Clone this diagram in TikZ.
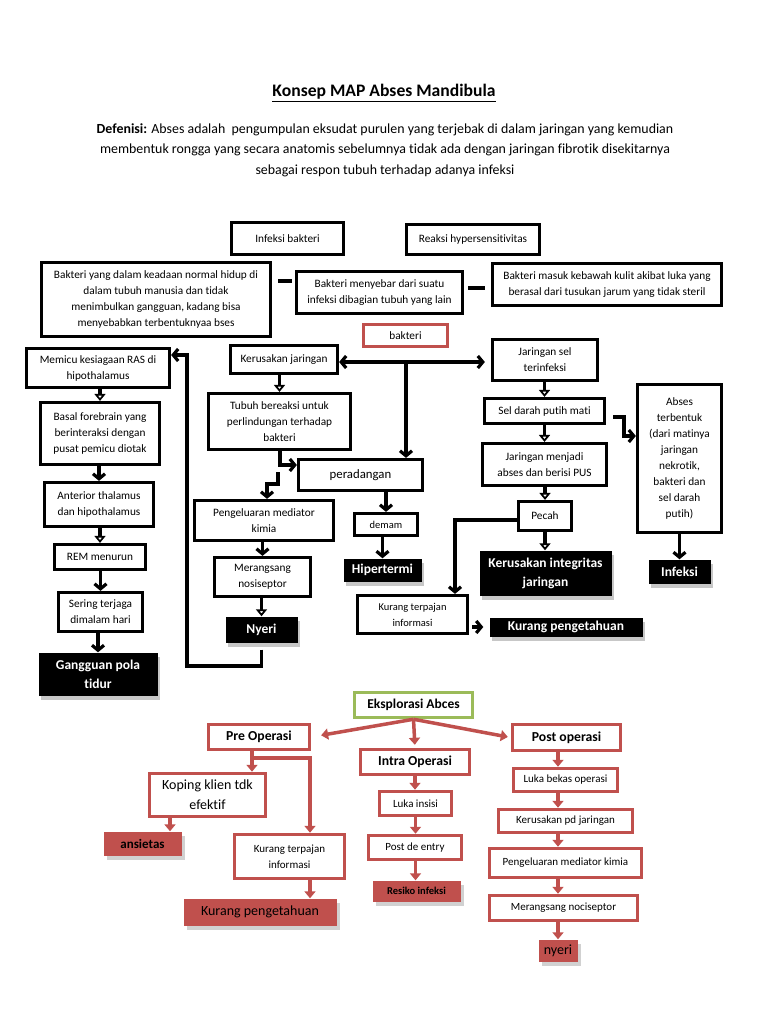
\documentclass[tikz,border=0pt]{standalone}
\usepackage{fontspec}
\setmainfont[Ligatures=NoCommon]{Carlito}
\usetikzlibrary{arrows.meta,shadows}
\definecolor{rd}{HTML}{C0504D}
\definecolor{gr}{HTML}{9BBB59}
\newcommand{\mybox}[7]{%
  \pgfmathsetmacro{\mbW}{#4-#2-3}%
  \pgfmathsetmacro{\mbH}{#5-#3-3}%
  \pgfmathsetmacro{\mbX}{(#2+#4)/2}%
  \pgfmathsetmacro{\mbY}{(#3+#5)/2}%
  \node[#1, minimum width=\mbW pt, minimum height=\mbH pt] (#6) at (\mbX,\mbY) {#7};}
\newcommand{\fs}[2]{\fontsize{#1}{#2}\selectfont}
\begin{document}
\begin{tikzpicture}[x=1pt,y=-1pt,
  bb/.style={draw=black, line width=3.2pt, fill=white, align=center, inner sep=1pt, font=\fs{11.3}{16}},
  blk/.style={fill=black, text=white, align=center, inner sep=1pt, font=\bfseries\fs{13.5}{19},
     general shadow={fill=black!22, shadow xshift=2pt, shadow yshift=-4pt}},
  rb/.style={draw=rd, line width=3.5pt, fill=white, align=center, inner sep=1pt, font=\fs{11}{16}},
  rf/.style={fill=rd, text=black, align=center, inner sep=1pt,
     general shadow={fill=black!18, shadow xshift=3pt, shadow yshift=-4pt}},
  conn/.style={line width=3.2pt, draw=black},
  tri/.style={-{Triangle[fill=white,length=7pt,width=11pt,line width=2.2pt]}},
  chev/.style={-{Straight Barb[length=5pt,width=12pt]}},
  rarr/.style={draw=rd, line width=3.5pt, -{Triangle[length=7pt,width=11pt]}}]
\fill[white] (0,0) rectangle (768,1024);
\useasboundingbox (0,0) rectangle (768,1024);

% title and definition
\node[font=\bfseries\fs{17.6}{20}] (title) at (384,93) {\underline{Konsep MAP Abses Mandibula}};
\node[align=center, font=\fs{13.9}{20.5}] (def) at (385,150) {\textbf{Defenisi:} Abses adalah \ pengumpulan eksudat purulen yang terjebak di dalam jaringan yang kemudian\\ membentuk rongga yang secara anatomis sebelumnya tidak ada dengan jaringan fibrotik disekitarnya\\ sebagai respon tubuh terhadap adanya infeksi};

% top boxes
\mybox{bb}{230}{221}{345}{256}{infb}{Infeksi bakteri}
\mybox{bb}{405}{223}{541}{256}{reak}{Reaksi hypersensitivitas}
\mybox{bb}{40}{261}{272}{338}{norm}{Bakteri yang dalam keadaan normal hidup di\\ dalam tubuh manusia dan tidak\\ menimbulkan gangguan, kadang bisa\\ menyebabkan terbentuknyaa bses}
\mybox{bb}{295}{270}{464}{315}{meny}{Bakteri menyebar dari suatu\\ infeksi dibagian tubuh yang lain}
\mybox{bb}{491}{262}{723}{307}{masuk}{Bakteri masuk kebawah kulit akibat luka yang\\ berasal dari tusukan jarum yang tidak steril}
\mybox{bb, draw=rd, line width=2.2pt}{362}{323}{449}{348}{bak}{bakteri}

% middle
\mybox{bb}{25}{347}{171}{389}{memicu}{Memicu kesiagaan RAS di\\ hipothalamus}
\mybox{bb}{39}{401}{161}{466}{basal}{Basal forebrain yang\\ berinteraksi dengan\\ pusat pemicu diotak}
\mybox{bb}{43}{481}{155}{528}{ant}{Anterior thalamus\\ dan hipothalamus}
\mybox{bb}{53}{543}{147}{571}{rem}{REM menurun}
\mybox{bb}{57}{591}{144}{633}{sering}{Sering terjaga\\ dimalam hari}
\mybox{blk}{37}{651}{159}{697}{gang}{Gangguan pola\\ tidur}

\mybox{bb}{229}{344}{339}{375}{kerus}{Kerusakan jaringan}
\mybox{bb}{207}{392}{352}{451}{tubuh}{Tubuh bereaksi untuk\\ perlindungan terhadap\\ bakteri}
\mybox{bb, font=\fs{12.8}{16}}{297}{458}{424}{492}{perad}{peradangan}
\mybox{bb}{193}{499}{335}{542}{peng}{Pengeluaran mediator\\ kimia}
\mybox{bb}{213}{556}{312}{598}{meran}{Merangsang\\ nosiseptor}
\mybox{blk}{224}{615}{299}{644}{nyeri}{Nyeri}
\mybox{bb, font=\fs{10.5}{16}}{353}{512}{419}{537}{demam}{demam}
\mybox{blk}{342}{557}{423}{583}{hiper}{Hipertermi}
\mybox{bb, font=\fs{10.5}{16}}{356}{594}{469}{635}{kurt}{Kurang terpajan\\ informasi}
\mybox{blk}{488}{616}{644}{638}{kurp}{Kurang pengetahuan}

\mybox{bb}{491}{338}{599}{382}{jarsel}{Jaringan sel\\ terinfeksi}
\mybox{bb}{483}{397}{606}{425}{sel}{Sel darah putih mati}
\mybox{bb}{481}{442}{608}{487}{jarm}{Jaringan menjadi\\ abses dan berisi PUS}
\mybox{bb}{517}{500}{573}{532}{pecah}{Pecah}
\mybox{blk}{478}{549}{613}{597}{kint}{Kerusakan integritas\\ jaringan}
\mybox{bb}{636}{383}{723}{534}{abses}{Abses\\ terbentuk\\ (dari matinya\\ jaringan\\ nekrotik,\\ bakteri dan\\ sel darah\\ putih)}
\mybox{blk}{647}{558}{712}{585}{inf}{Infeksi}

% bottom
\mybox{bb, draw=gr, line width=3.5pt, font=\bfseries\fs{13.5}{16}}{353}{691}{474}{719}{eks}{Eksplorasi Abces}
\mybox{rb, font=\bfseries\fs{13.7}{16}}{207}{723}{311}{751}{pre}{Pre Operasi}
\mybox{rb, font=\bfseries\fs{13.7}{16}}{359}{748}{471}{776}{intra}{Intra Operasi}
\mybox{rb, font=\bfseries\fs{13.7}{16}}{511}{723}{622}{752}{post}{Post operasi}
\mybox{rb, font=\fs{14}{20}}{148}{772}{267}{818}{kop}{Koping klien tdk\\ efektif}
\mybox{rf, font=\bfseries\fs{13}{16}}{102}{830}{183}{857}{ans}{ansietas}
\mybox{rb}{233}{833}{346}{880}{kurt2}{Kurang terpajan\\ informasi}
\mybox{rf, font=\fs{14}{16}}{182}{897}{338}{927}{kurp2}{Kurang pengetahuan}
\mybox{rb}{378}{790}{453}{817}{luka}{Luka insisi}
\mybox{rb}{367}{834}{463}{861}{pde}{Post de entry}
\mybox{rf, font=\bfseries\fs{10.5}{16}}{371}{879}{462}{903}{res}{Resiko infeksi}
\mybox{rb}{512}{767}{619}{793}{lbo}{Luka bekas operasi}
\mybox{rb}{497}{808}{634}{834}{kpd}{Kerusakan pd jaringan}
\mybox{rb}{488}{847}{643}{879}{pmk}{Pengeluaran mediator kimia}
\mybox{rb}{488}{894}{639}{922}{mno}{Merangsang nociseptor}
\mybox{rf, font=\fs{14}{16}}{537}{938}{579}{963}{ny2}{nyeri}

% coordinates for free ends
\coordinate (d1) at (278,281);
\coordinate (d2) at (292,281);
\coordinate (d3) at (468,288);
\coordinate (d4) at (485,288);
\coordinate (j) at (406,362);
\coordinate (t1) at (280,465);
\coordinate (t2) at (278,472);
\coordinate (t3) at (267,484);
\coordinate (l1) at (187,666);
\coordinate (l2) at (187,355);
\coordinate (p1) at (455,520);
\coordinate (s1) at (613,417);
\coordinate (s2) at (624,436);
\coordinate (k1) at (472,627);
\coordinate (r1) at (252,758);
\coordinate (r2) at (310,758);
\coordinate (r3) at (170,0);

% top dashes
\draw[conn] (d1) -- (d2);
\draw[conn] (d3) -- (d4);

% left column
\draw[conn,tri] (basal.north |- memicu.south) -- (basal.north);
\draw[conn,chev] (ant.north |- basal.south) -- (ant.north);
\draw[conn,tri] (rem.north |- ant.south) -- (rem.north);
\draw[conn,chev] (sering.north |- rem.south) -- (sering.north);
\draw[conn,chev] (gang.north |- sering.south) -- (gang.north);

% central
\draw[conn,chev] (j) -- (kerus.east |- j);
\draw[conn,chev] (j) -- ([xshift=-6pt]jarsel.west |- j);
\draw[conn,chev] (j) -- (perad.north -| j);
\draw[conn,tri] (tubuh.north |- kerus.south) -- (tubuh.north);
\draw[conn,chev] (tubuh.south -| t1) -- (t1) -- (perad.west |- t1);
\draw[conn,chev] (t2) |- (t3) -- (peng.north -| t3);
\draw[conn,chev] (meran.north |- peng.south) -- (meran.north);
\draw[conn,tri] (nyeri.north |- meran.south) -- (nyeri.north);
\draw[conn,chev] ([yshift=-7pt]nyeri.south) |- (l1) -- (l2) -- (memicu.east |- l2);
\draw[conn,chev] (demam.north |- perad.south) -- (demam.north);
\draw[conn,chev] (hiper.north |- demam.south) -- (hiper.north);

% right
\draw[conn,tri] (sel.north |- jarsel.south) -- (sel.north);
\draw[conn,tri] (jarm.north |- sel.south) -- (jarm.north);
\draw[conn,tri] (pecah.north |- jarm.south) -- (pecah.north);
\draw[conn,tri] (pecah.south) -- (kint.north -| pecah.south);
\draw[conn,chev] (pecah.west |- p1) -- (p1) -- (kurt.north -| p1);
\draw[conn,chev] (s1) -| (s2) -- (abses.west |- s2);
\draw[conn,chev] (inf.north |- abses.south) -- (inf.north);
\draw[conn,chev] (k1) -- ([xshift=-6pt]kurp.west |- k1);

% bottom red
\draw[rarr, shorten >=10pt] (eks.south) -- (pre.east);
\draw[rarr, shorten >=3pt] (eks.south) -- (intra.north);
\draw[rarr, shorten >=3pt] (eks.south) -- (post.west);
\draw[rarr] (pre.south -| r1) -- (kop.north -| r1);
\draw[rarr] (r1) -- (r2) -- (kurt2.north -| r2);
\draw[rarr] (kop.south -| r3) -- (ans.north -| r3);
\draw[rarr] (kurt2.south -| r2) -- (kurp2.north -| r2);
\draw[rarr] (intra.south) -- (luka.north -| intra.south);
\draw[rarr] (luka.south) -- (pde.north -| luka.south);
\draw[rarr] (pde.south -| luka.south) -- (res.north -| luka.south);
\draw[rarr] (post.south -| ny2) -- (lbo.north -| ny2);
\draw[rarr] (lbo.south -| ny2) -- (kpd.north -| ny2);
\draw[rarr] (kpd.south -| ny2) -- (pmk.north -| ny2);
\draw[rarr] (pmk.south -| ny2) -- (mno.north -| ny2);
\draw[rarr] (mno.south -| ny2) -- (ny2.north);
\end{tikzpicture}
\end{document}
